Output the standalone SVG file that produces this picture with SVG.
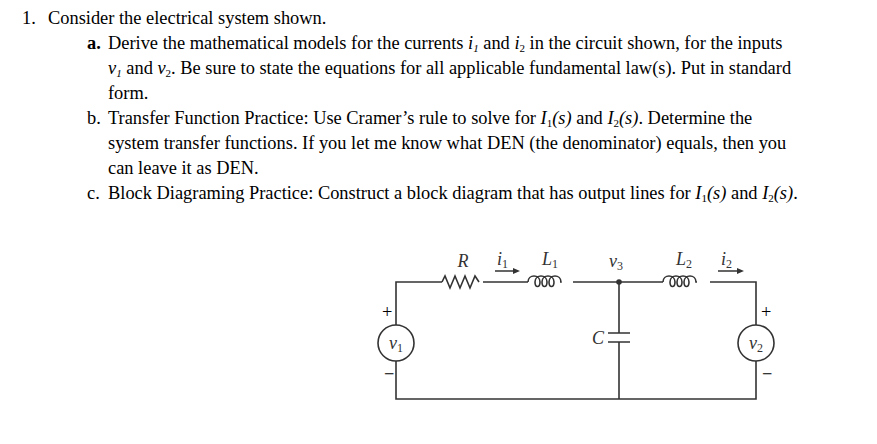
<svg xmlns="http://www.w3.org/2000/svg" width="877" height="444" viewBox="0 0 877 444">
<style>
.t{font-family:"Liberation Serif",serif;font-size:18.4px;fill:#000}
.c{font-family:"Liberation Serif",serif;font-size:18px;fill:#333;font-style:italic}
.w{fill:none;stroke:#333;stroke-width:1.6}
</style>
<rect width="877" height="444" fill="#fff"/>
<g id="text">
<text class="t" x="22" y="24">1.</text><text class="t" x="48" y="24">Consider the electrical system shown.</text>
<text class="t" x="87" y="49" font-weight="bold">a.</text>
<text class="t" x="108" y="49">Derive the mathematical models for the currents <tspan font-style="italic">i</tspan><tspan font-size="11" font-style="italic" dy="3">1</tspan><tspan dy="-3"> and </tspan><tspan font-style="italic">i</tspan><tspan font-size="11" dy="3">2</tspan><tspan dy="-3"> in the circuit shown, for the inputs</tspan></text>
<text class="t" x="108" y="74"><tspan font-style="italic">v</tspan><tspan font-size="11" font-style="italic" dy="3">1</tspan><tspan dy="-3"> and </tspan><tspan font-style="italic">v</tspan><tspan font-size="11" dy="3">2</tspan><tspan dy="-3">. Be sure to state the equations for all applicable fundamental law(s). Put in standard</tspan></text>
<text class="t" x="108" y="99">form.</text>
<text class="t" x="87" y="124">b.</text>
<text class="t" x="108" y="124">Transfer Function Practice: Use Cramer’s rule to solve for <tspan font-style="italic">I</tspan><tspan font-size="11" dy="3">1</tspan><tspan dy="-3" font-style="italic">(s)</tspan> and <tspan font-style="italic">I</tspan><tspan font-size="11" dy="3">2</tspan><tspan dy="-3" font-style="italic">(s)</tspan>. Determine the</text>
<text class="t" x="108" y="149">system transfer functions. If you let me know what DEN (the denominator) equals, then you</text>
<text class="t" x="108" y="174">can leave it as DEN.</text>
<text class="t" x="87" y="199">c.</text>
<text class="t" x="108" y="199">Block Diagraming Practice: Construct a block diagram that has output lines for <tspan font-style="italic">I</tspan><tspan font-size="11" dy="3">1</tspan><tspan dy="-3" font-style="italic">(s)</tspan> and <tspan font-style="italic">I</tspan><tspan font-size="11" dy="3">2</tspan><tspan dy="-3" font-style="italic">(s)</tspan>.</text>
</g>
<g id="connectors">
<path class="w" d="M396,325 V282 H442 M483,282 H528 M573,282 H663 M710,282 H756 V325 M396,361 V399 H756 V361 M619,282 V333 M619,342 V399"/>
<path class="w" d="M442,282 l3,-6 l5,12 l5,-12 l5,12 l5,-12 l5,12 l5,-12 l4,6"/>
<path class="w" d="M528,282 c0,-8 12,-8 12,0 c0,6 -5,6 -5,0 c0,-8 12,-8 12,0 c0,6 -5,6 -5,0 c0,-8 12,-8 12,0 c0,6 -5,6 -5,0 c0,-8 12,-8 12,0 h-1"/>
<path class="w" d="M663,282 c0,-8 12,-8 12,0 c0,6 -5,6 -5,0 c0,-8 12,-8 12,0 c0,6 -5,6 -5,0 c0,-8 12,-8 12,0 c0,6 -5,6 -5,0 c0,-8 12,-8 12,0 h1"/>
<path class="w" d="M608,333 H630 M608,342 H630"/>
<circle cx="619" cy="282" r="2.8" fill="#333"/>
<path class="w" d="M495,271 H516 M718,271 H740"/>
<path d="M520,271 l-7,-3 v6 z M744,271 l-7,-3 v6 z" fill="#333"/>
</g>
<g id="v1"><circle class="w" cx="396" cy="343" r="18" fill="#fff"/><text class="c" x="396" y="349" text-anchor="middle">v<tspan font-size="12" font-style="normal" dy="3">1</tspan></text>
<text class="t" x="382" y="318" font-size="20" fill="#555">+</text><text class="t" x="384" y="380" font-size="20" fill="#555">−</text></g>
<g id="v2"><circle class="w" cx="756" cy="343" r="18" fill="#fff"/><text class="c" x="756" y="349" text-anchor="middle">v<tspan font-size="12" font-style="normal" dy="3">2</tspan></text>
<text class="t" x="761" y="318" font-size="20" fill="#555">+</text><text class="t" x="762" y="380" font-size="20" fill="#555">−</text></g>
<g id="labels">
<text class="c" x="463" y="267" text-anchor="middle">R</text>
<text class="c" x="497" y="265">i<tspan font-size="12" font-style="normal" dy="3">1</tspan></text>
<text class="c" x="542" y="265">L<tspan font-size="12" font-style="normal" dy="3">1</tspan></text>
<text class="c" x="609" y="267">v<tspan font-size="12" font-style="normal" dy="3">3</tspan></text>
<text class="c" x="676" y="265">L<tspan font-size="12" font-style="normal" dy="3">2</tspan></text>
<text class="c" x="721" y="265">i<tspan font-size="12" font-style="normal" dy="3">2</tspan></text>
<text class="c" x="592" y="344">C</text>
</g>
</svg>
